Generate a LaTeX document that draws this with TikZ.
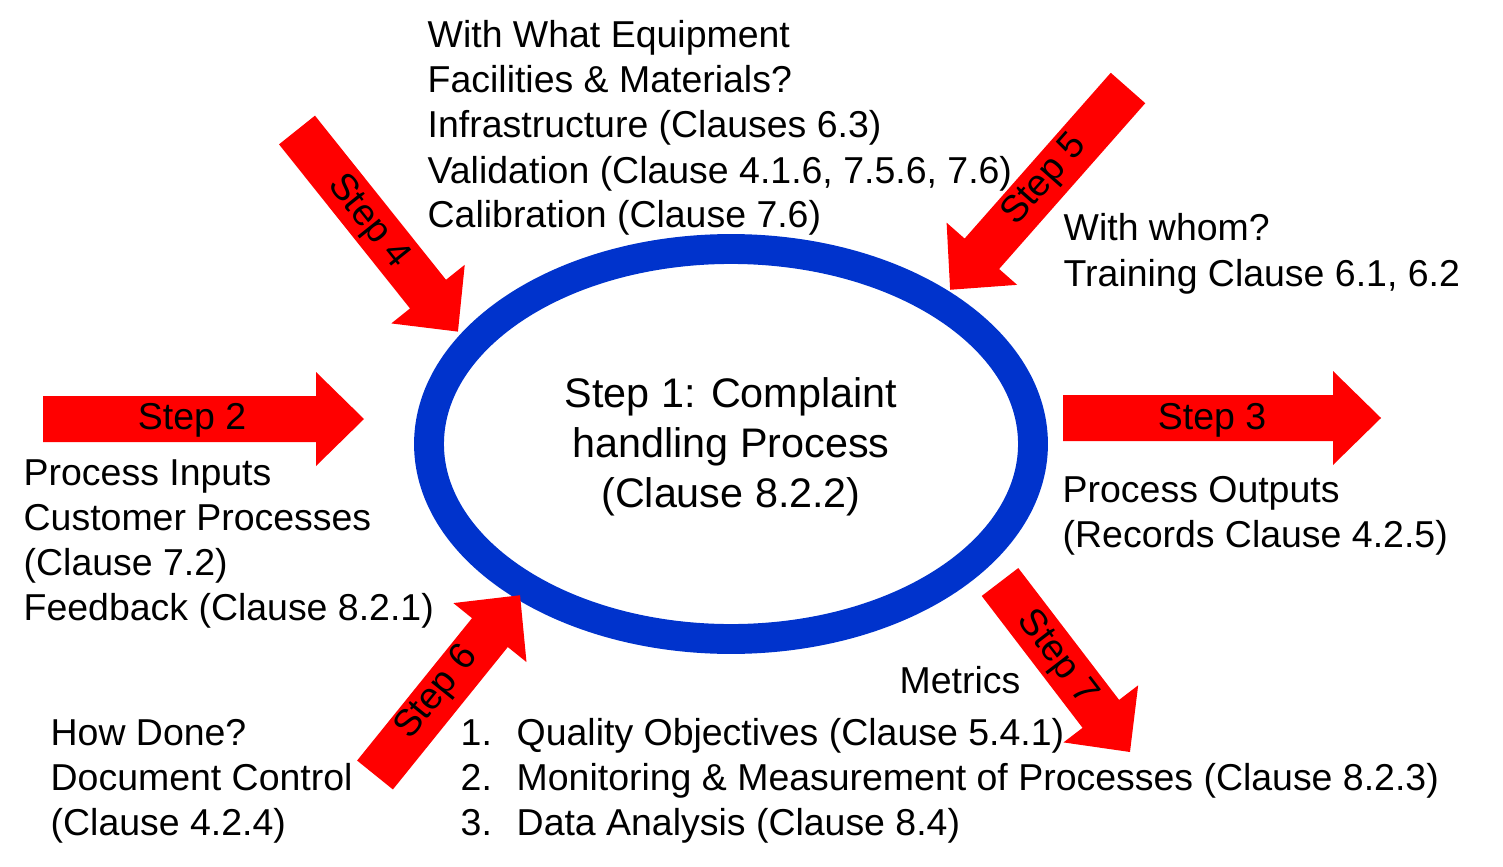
\documentclass[tikz,border=0pt]{standalone}
\usepackage{fontspec}
\setmainfont{Liberation Sans}
\definecolor{ringblue}{HTML}{0033CC}
\definecolor{arrred}{HTML}{FF0000}
\tikzset{
  txt/.style={anchor=base west,inner sep=0pt,font=\fontsize{10.65}{12}\selectfont},
  lbl/.style={inner sep=0pt,font=\fontsize{10.65}{12}\selectfont},
  big/.style={align=center,inner sep=0pt,font=\fontsize{11.75}{14.2}\selectfont}
}
\newcommand\blockarrow[4]{%
  \begin{scope}[shift={(#1,#2)},rotate=#4]
    \fill[arrred] (0,-23)--(#3-48,-23)--(#3-48,-47)--(#3,0)--(#3-48,47)--(#3-48,23)--(0,23)--cycle;
  \end{scope}}
\begin{document}
\begin{tikzpicture}[x=0.01cm,y=-0.01cm]
\useasboundingbox (0,0) rectangle (1503,867);
% ring
\draw[ringblue,line width=8.5pt] (731,444) ellipse [x radius=302,y radius=195];
\node[big] (c) at (731,447) {Step 1: Complaint\\handling Process\\(Clause 8.2.2)};
% arrows
\blockarrow{43}{419}{321}{0}
\blockarrow{1063}{418}{318}{0}
\blockarrow{297}{130}{258}{-51.4}
\blockarrow{1128}{88}{269}{-131.4}
\blockarrow{375}{775}{231}{51.1}
\blockarrow{1000}{582}{214}{-52.6}
\node[lbl] (s2) at (192,420) {Step 2};
\node[lbl] (s3) at (1212,420) {Step 3};
\node[lbl,rotate=-51.4] (s4) at (368,222) {Step 4};
\node[lbl,rotate=48.6] (s5) at (1045,180) {Step 5};
\node[lbl,rotate=51.1] (s6) at (437,693) {Step 6};
\node[lbl,rotate=-52.6] (s7) at (1057,658) {Step 7};
% texts
\node[txt] (t1) at (427,48) {With What Equipment};
\node[txt] (t2) at (427,93) {Facilities \& Materials?};
\node[txt] (t3) at (427,138) {Infrastructure (Clauses 6.3)};
\node[txt] (t4) at (427,183) {Validation (Clause 4.1.6, 7.5.6, 7.6)};
\node[txt] (t5) at (427,228) {Calibration (Clause 7.6)};
\node[txt] (r1) at (1063,241) {With whom?};
\node[txt] (r2) at (1063,286) {Training Clause 6.1, 6.2};
\node[txt] (l1) at (23,485) {Process Inputs};
\node[txt] (l2) at (23,530) {Customer Processes};
\node[txt] (l3) at (23,575) {(Clause 7.2)};
\node[txt] (l4) at (23,620) {Feedback (Clause 8.2.1)};
\node[txt] (o1) at (1062,502) {Process Outputs};
\node[txt] (o2) at (1062,547) {(Records Clause 4.2.5)};
\node[txt] (h1) at (50,745) {How Done?};
\node[txt] (h2) at (50,790) {Document Control};
\node[txt] (h3) at (50,835) {(Clause 4.2.4)};
\node[txt] (m0) at (899,693) {Metrics};
\node[txt] (n1) at (460,745) {1.};
\node[txt] (n2) at (460,790) {2.};
\node[txt] (n3) at (460,835) {3.};
\node[txt] (m1) at (516,745) {Quality Objectives (Clause 5.4.1)};
\node[txt] (m2) at (516,790) {Monitoring \& Measurement of Processes (Clause 8.2.3)};
\node[txt] (m3) at (516,835) {Data Analysis (Clause 8.4)};
\end{tikzpicture}
\end{document}
